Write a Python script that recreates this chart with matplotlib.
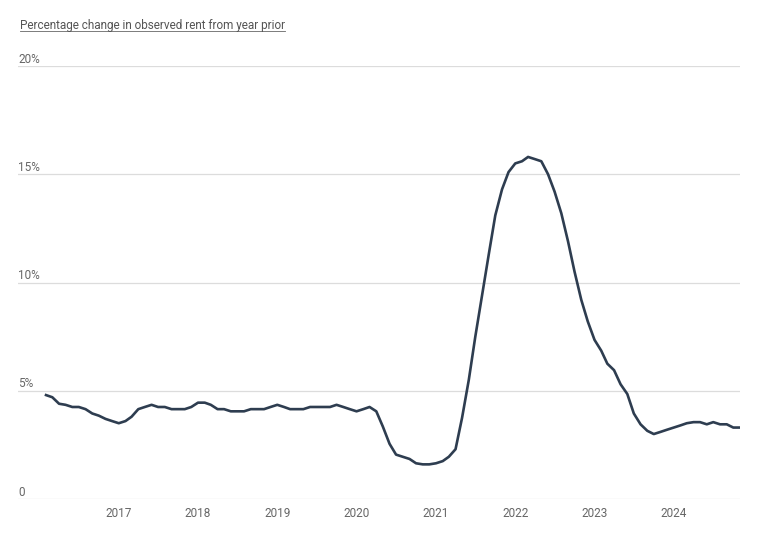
import pandas as pd
import numpy as np
import matplotlib.pyplot as plt
from matplotlib.lines import Line2D

# Dữ liệu: thay đổi tiền thuê theo tháng, từ 02/2016 đến 11/2024
months = pd.date_range('2016-02-01', periods=106, freq='MS')
rent_change = [
    4.8, 4.7, 4.4, 4.35, 4.25, 4.25, 4.15, 3.95, 3.85, 3.7, 3.6,      # 2016
    3.5, 3.6, 3.8, 4.15, 4.25, 4.35, 4.25, 4.25, 4.15, 4.15, 4.15, 4.25,  # 2017
    4.45, 4.45, 4.35, 4.15, 4.15, 4.05, 4.05, 4.05, 4.15, 4.15, 4.15, 4.25,  # 2018
    4.35, 4.25, 4.15, 4.15, 4.15, 4.25, 4.25, 4.25, 4.25, 4.35, 4.25, 4.15,  # 2019
    4.05, 4.15, 4.25, 4.05, 3.35, 2.55, 2.05, 1.95, 1.85, 1.65, 1.6, 1.6,    # 2020
    1.65, 1.75, 1.95, 2.3, 3.75, 5.5, 7.5, 9.4, 11.3, 13.1, 14.3, 15.1,      # 2021
    15.5, 15.6, 15.8, 15.7, 15.6, 15.0, 14.2, 13.2, 11.9, 10.5, 9.2, 8.2,    # 2022
    7.35, 6.85, 6.25, 5.95, 5.3, 4.85, 3.95, 3.45, 3.15, 3.0, 3.1, 3.2,      # 2023
    3.3, 3.4, 3.5, 3.55, 3.55, 3.45, 3.55, 3.45, 3.45, 3.3, 3.3,             # 2024
]
year_ticks = [pd.Timestamp(f'{y}-01-01') for y in range(2017, 2025)]
year_labels = [str(y) for y in range(2017, 2025)]
y_ticks = [0, 5, 10, 15, 20]
y_labels = ['0', '5%', '10%', '15%', '20%']

plt.rcParams['font.family'] = ['Roboto', 'DejaVu Sans']

fig = plt.figure(figsize=(7.68, 5.36), dpi=100)
ax = fig.add_axes([18 / 768, 1 - 499 / 536, 722 / 768, 433 / 536])

ax.plot(months, rent_change, color='#2e3d50', linewidth=1.9, solid_joinstyle='round')

# Trục và lưới
ax.set_ylim(0, 20)
month_w = (months[-1] - months[0]) / 105
ax.set_xlim(months[0] - month_w * 4.24, months[-1])
for v, lab in zip(y_ticks, y_labels):
    ax.axhline(v, color='#dcdcdc', linewidth=0.9, zorder=0)
    ax.text(0.0, v + 0.02, lab, transform=ax.get_yaxis_transform(),
            ha='left', va='bottom', fontsize=8.5, color='#666666')
ax.set_yticks([])
ax.set_xticks(year_ticks)
ax.set_xticklabels(year_labels, fontsize=8.5, color='#666666')
ax.tick_params(axis='x', length=0, pad=6)
for s in ax.spines.values():
    s.set_visible(False)

# Tiêu đề có gạch chân
title = fig.text(20 / 768, 1 - 25 / 536, 'Percentage change in observed rent from year prior',
                 ha='left', va='center', fontsize=8.5, color='#555555')
fig.canvas.draw()
bb = title.get_window_extent().transformed(fig.transFigure.inverted())
fig.add_artist(Line2D([bb.x0, bb.x1], [bb.y0 + 0.001, bb.y0 + 0.001],
                      transform=fig.transFigure, color='#666666', linewidth=0.6))

plt.savefig('out.png', dpi=100)
